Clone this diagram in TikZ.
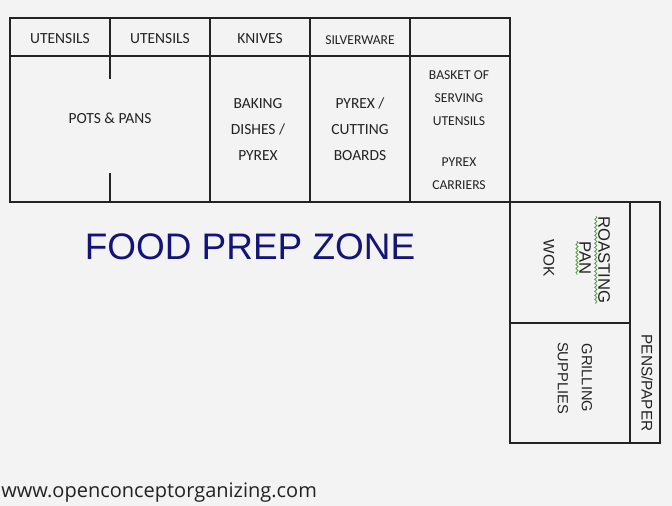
\documentclass[tikz,border=0pt]{standalone}
\usepackage{fontspec}
\setmainfont{Carlito}
\newfontfamily\arialf{Liberation Sans}
\newfontfamily\urlf{Open Sans}
\usetikzlibrary{decorations.pathmorphing,calc}
\definecolor{bg}{RGB}{243,243,243}
\definecolor{ink}{RGB}{35,35,35}
\definecolor{navy}{RGB}{20,20,120}
\definecolor{squig}{RGB}{90,160,60}
\begin{document}
\begin{tikzpicture}[x=0.75pt,y=-0.75pt,
 wall/.style={draw=ink,line width=1.3pt},
 lab/.style={text=ink,inner sep=0pt,font=\fontsize{11.6}{19.5}\selectfont,align=center},
 small/.style={text=ink,inner sep=0pt,font=\fontsize{10.2}{17.25}\selectfont,align=center},
 vlab/.style={text=ink,inner sep=0pt,rotate=-90,font=\arialf\fontsize{11.5}{14}\selectfont},
 vbig/.style={vlab,font=\arialf\fontsize{12.5}{14}\selectfont},
 squiggle/.style={draw=squig,line width=0.6pt,decorate,decoration={snake,amplitude=0.8pt,segment length=3pt}}
]
\fill[bg] (0,0) rectangle (672,506);
\useasboundingbox (0,0) rectangle (672,506);
% upper cabinets / drawers
\draw[wall] (10,18) rectangle (510,202);
\draw[wall] (10,56) -- (510,56);
\foreach \x in {210,310,410} \draw[wall] (\x,18) -- (\x,202);
\draw[wall] (110,18) -- (110,79);
\draw[wall] (110,173) -- (110,202);
% right section
\draw[wall] (510,202) rectangle (660,443);
\draw[wall] (630,202) -- (630,443);
\draw[wall] (510,323) -- (630,323);
% labels
\node[lab] (u1) at (60,39) {UTENSILS};
\node[lab] (u2) at (160,39) {UTENSILS};
\node[lab] (kn) at (260,39) {KNIVES};
\node[small] (sw) at (360,40) {SILVERWARE};
\node[lab] (pp) at (110,118) {POTS \& PANS};
\node[lab] (bd) at (258,129) {BAKING\\DISHES /\\PYREX};
\node[lab] (pc) at (360,129) {PYREX /\\CUTTING\\BOARDS};
\node[small] (bs) at (459,98) {BASKET OF\\SERVING\\UTENSILS};
\node[small] (pcr) at (459,174) {PYREX\\CARRIERS};
% right labels
\node[vbig] (ro) at (604,260) {ROASTING};
\node[vbig] (pan) at (585,258) {PAN};
\node[vlab] (wok) at (549,258) {WOK};
\node[vlab,font=\arialf\fontsize{11}{14}\selectfont] (gr) at (587,378) {GRILLING};
\node[vlab,font=\arialf\fontsize{11}{14}\selectfont] (su) at (563,378) {SUPPLIES};
\node[vlab] (pen) at (647,383) {PENS/PAPER};
\draw[squiggle] ($(ro.south west)+(-2,0)$) -- ($(ro.south east)+(-2,0)$);
\draw[squiggle] ($(pan.south west)+(-2,0)$) -- ($(pan.south east)+(-2,0)$);
% zone title
\node[font=\arialf\fontsize{27.7}{30}\selectfont,text=navy,inner sep=0pt] (fpz) at (250,247) {FOOD PREP ZONE};
% url
\node[anchor=base west,font=\urlf\fontsize{15}{18}\selectfont,text=ink,inner sep=0pt] (url) at (1,497) {www.openconceptorganizing.com};
\end{tikzpicture}
\end{document}
